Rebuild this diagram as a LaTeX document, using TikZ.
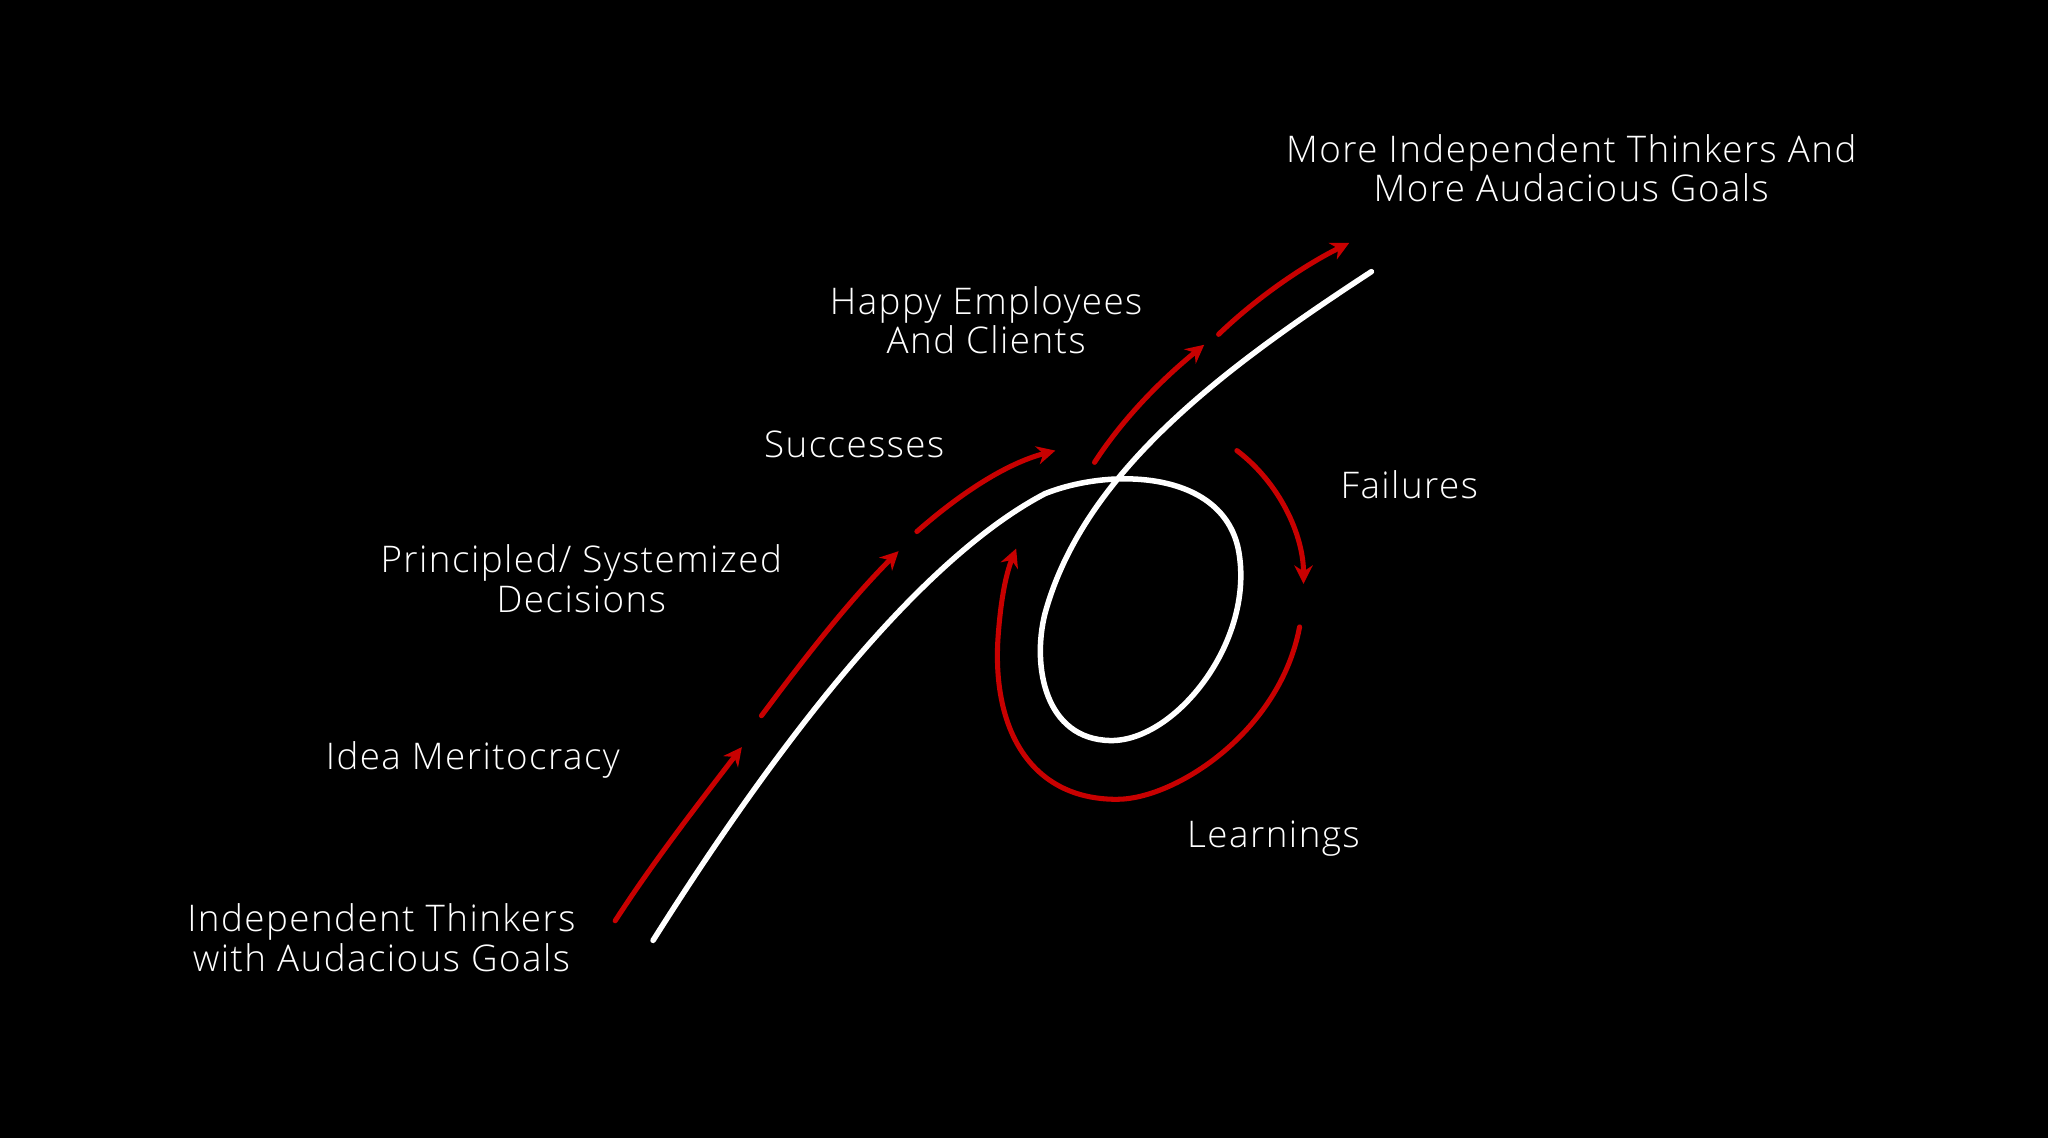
\documentclass[tikz,border=0pt]{standalone}
\usepackage{fontspec}
\setmainfont[LetterSpace=4]{Open Sans Light}
\usetikzlibrary{arrows.meta}
\definecolor{rd}{RGB}{200,0,0}
\begin{document}
\begin{tikzpicture}[x=0.01cm,y=-0.01cm,
  lbl/.style={text=white,align=center,font=\fontsize{8}{8.6}\selectfont,inner sep=0pt},
  redarr/.style={draw=rd,line width=1.1pt,line cap=round,-{Stealth[length=4pt,width=4pt]}},
  wline/.style={draw=white,line width=1.2pt,line cap=round}]
\fill[black] (0,0) rectangle (1568,871);
\useasboundingbox (0,0) rectangle (1568,871);
\node[lbl] (t1) at (1203,129) {More Independent Thinkers And\\More Audacious Goals};
\node[lbl] (t2) at (755,245) {Happy Employees\\And Clients};
\node[lbl] (t3) at (654,340) {Successes};
\node[lbl] (t4) at (445,443) {Principled/ Systemized\\Decisions};
\node[lbl] (t5) at (362,582) {Idea Meritocracy};
\node[lbl] (t6) at (292,718) {Independent Thinkers\\with Audacious Goals};
\node[lbl] (t7) at (1079,371) {Failures};
\node[lbl] (t8) at (975,642) {Learnings};
\draw[wline] (500,720) .. controls (620,530) and (720,420) .. (800,378)
  .. controls (850,358) and (935,360) .. (948,420)
  .. controls (962,490) and (900,568) .. (850,567)
  .. controls (800,566) and (790,510) .. (800,470)
  .. controls (830,360) and (940,280) .. (1050,208);
\draw[redarr] (471,705) .. controls (500,660) and (535,615) .. (568,572);
\draw[redarr] (583,548) .. controls (615,505) and (650,460) .. (688,422);
\draw[redarr] (702,407) .. controls (735,378) and (770,355) .. (808,345);
\draw[redarr] (838,354) .. controls (860,320) and (890,290) .. (922,264);
\draw[redarr] (933,256) .. controls (960,230) and (995,205) .. (1033,186);
\draw[redarr] (947,345) .. controls (980,370) and (998,410) .. (998,447);
\draw[redarr] (995,480) .. controls (980,560) and (900,612) .. (855,612)
  .. controls (790,612) and (760,560) .. (764,490) .. controls (766,460) and (770,440) .. (778,420);
\end{tikzpicture}
\end{document}
